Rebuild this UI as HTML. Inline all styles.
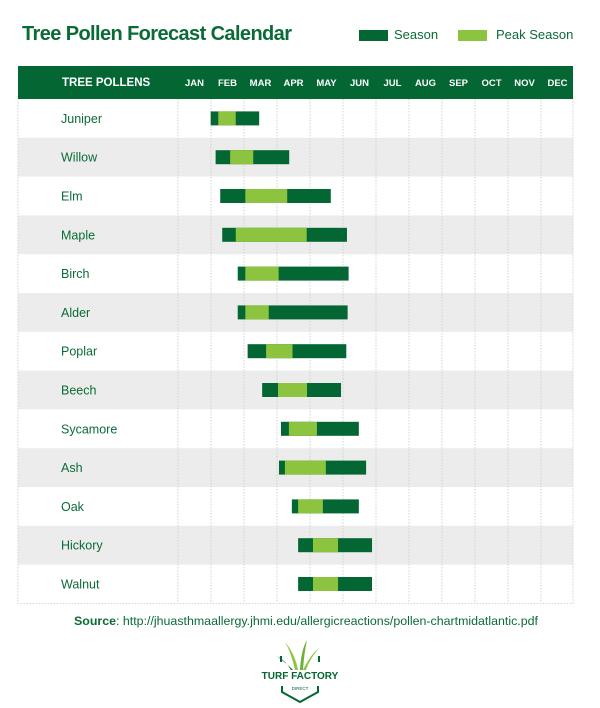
<!DOCTYPE html>
<html><head><meta charset="utf-8">
<style>
body{margin:0;background:#fff;font-family:"Liberation Sans",sans-serif;}
#wrap{position:relative;width:600px;height:708px;overflow:hidden;}
.t{position:absolute;white-space:nowrap;}
</style></head>
<body>
<div id="wrap">
<div class="t" style="left:22px;top:23px;font-size:20px;font-weight:bold;color:#0b6b36;letter-spacing:-0.6px;">Tree Pollen Forecast Calendar</div>
<div style="position:absolute;left:359px;top:30px;width:29px;height:11px;background:#036633;"></div>
<div class="t" style="left:394px;top:27px;font-size:13px;color:#0b6b36;">Season</div>
<div style="position:absolute;left:458px;top:30px;width:29px;height:11px;background:#8cc43f;"></div>
<div class="t" style="left:496px;top:27px;font-size:13px;color:#0b6b36;">Peak Season</div>
<svg id="chart" width="600" height="708" style="position:absolute;left:0;top:0"></svg>
<div class="t" style="left:74px;top:614px;font-size:12.4px;color:#0b6b36;"><b>Source</b>: http://jhuasthmaallergy.jhmi.edu/allergicreactions/pollen-chartmidatlantic.pdf</div>
<svg width="90" height="70" style="position:absolute;left:255px;top:640px">
<path d="M40 30 Q36 12 30 2 Q40 14 43 30Z" fill="#8cc43f"/>
<path d="M45 30 Q46 10 52 0 Q49 14 48 30Z" fill="#6fb03a"/>
<path d="M48 30 Q56 14 64 8 Q54 20 51 30Z" fill="#8cc43f"/>
<path d="M36 30 Q30 20 22 16 Q32 24 38 30Z" fill="#036633"/>
<path d="M26 16 L26 22 M64 16 L64 22" stroke="#036633" stroke-width="2"/>
<path d="M27 46 L27 52 L45 62 L63 52 L63 46" stroke="#036633" stroke-width="2" fill="none"/>
<text x="45" y="39" text-anchor="middle" font-size="10" font-weight="bold" fill="#036633" font-family="Liberation Sans">TURF FACTORY</text>
<text x="45" y="50" text-anchor="middle" font-size="4.5" fill="#036633" font-family="Liberation Sans">DIRECT</text>
</svg>
</div>
<script>
const months=["JAN","FEB","MAR","APR","MAY","JUN","JUL","AUG","SEP","OCT","NOV","DEC"];
const trees=["Juniper","Willow","Elm","Maple","Birch","Alder","Poplar","Beech","Sycamore","Ash","Oak","Hickory","Walnut"];
const seasonStart=[0.99,1.14,1.28,1.34,1.81,1.81,2.11,2.55,3.12,3.06,3.45,3.64,3.64];
const peakStart=[1.22,1.58,2.04,1.75,2.04,2.04,2.67,3.03,3.36,3.24,3.64,4.09,4.09];
const peakEnd=[1.75,2.28,3.31,3.9,3.05,2.75,3.47,3.91,4.21,4.48,4.39,4.85,4.85];
const seasonEnd=[2.46,3.37,4.63,5.12,5.17,5.14,5.1,4.94,5.48,5.7,5.48,5.88,5.88];

const NS="http://www.w3.org/2000/svg";
const svg=document.getElementById('chart');
const L=18,R=573,HT=66,HB=99,RH=38.8,M0=178,MW=33;
const x=m=>M0+m*MW;
const y=i=>HB+i*RH;
function mk(tag,attrs){const e=document.createElementNS(NS,tag);for(const k in attrs)e.setAttribute(k,attrs[k]);svg.appendChild(e);return e;}
let h=mk('rect',{x:L,y:HT,width:R-L,height:HB-HT,fill:'#036633'});


let ht=mk('text',{x:62,y:86,'font-size':11.5,'font-weight':'bold',fill:'#fff','font-family':'Liberation Sans'});
ht.textContent='TREE POLLENS';


months.forEach((m,i)=>{
  const t=mk('text',{x:x(i)+MW/2,y:86,'font-size':9.5,'font-weight':'bold',fill:'#fff','text-anchor':'middle','font-family':'Liberation Sans'});
  t.textContent=m;
  
  
});
trees.forEach((n,i)=>{
  if(i%2===1){
    const r=mk('rect',{x:L,y:y(i),width:R-L,height:RH,fill:'#ebeceb'});
    
    
  }
});
for(let i=0;i<12;i++){
  const g=mk('line',{x1:x(i),x2:x(i),y1:HB,y2:y(trees.length),stroke:'#cfd3cf','stroke-width':1,'stroke-dasharray':'1.5,1.5'});
  
  
}
const bd=mk('path',{d:`M${L} ${HB}V${y(trees.length)}H${R}V${HB}`,stroke:'#cfd3cf',fill:'none','stroke-dasharray':'1.5,1.5'});


trees.forEach((n,i)=>{
  const cy=y(i)+RH/2;
  const t=mk('text',{x:61,y:cy+4.5,'font-size':12.5,fill:'#0b6b36','font-family':'Liberation Sans'});
  t.textContent=n;
  
  
  const s=mk('rect',{x:x(seasonStart[i]),y:cy-7,width:x(seasonEnd[i])-x(seasonStart[i]),height:14,fill:'#036633'});
  
  
  const p=mk('rect',{x:x(peakStart[i]),y:cy-7,width:x(peakEnd[i])-x(peakStart[i]),height:14,fill:'#8cc43f'});
  
  
});
</script>
</body></html>
